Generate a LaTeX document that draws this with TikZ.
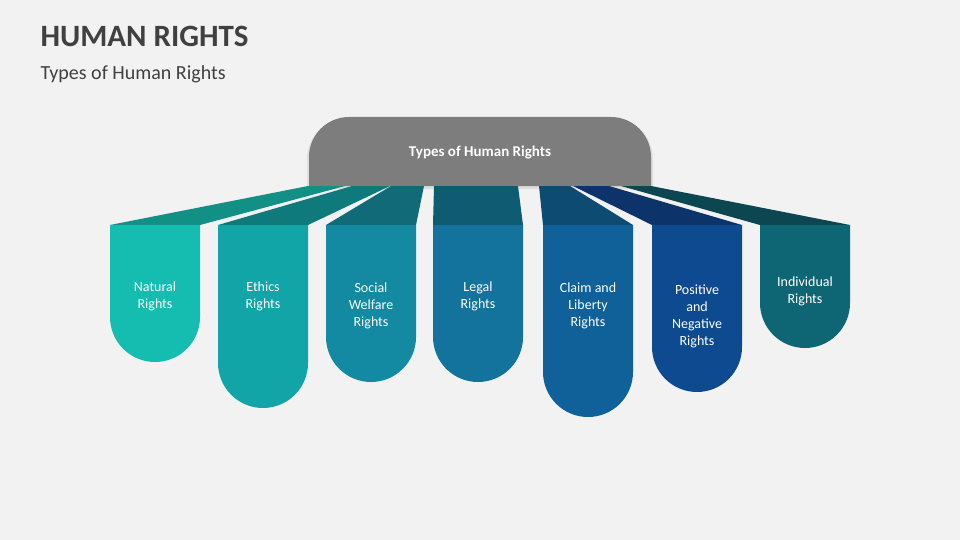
\documentclass[tikz,border=0pt]{standalone}
\usepackage{fontspec}
\setmainfont{Carlito}
\begin{document}
\begin{tikzpicture}[x=1pt,y=-1pt,
  lbl/.style={text=white,font=\fontsize{14}{17}\selectfont,align=center}]
\fill[white!95!black] (0,0) rectangle (960,540);
\useasboundingbox (0,0) rectangle (960,540);
\node[anchor=west,text=black!75,font=\fontsize{31}{36}\bfseries\selectfont] (title) at (37,36) {HUMAN RIGHTS};
\node[anchor=west,text=black!75,font=\fontsize{20}{24}\selectfont] (sub) at (37,74) {Types of Human Rights};
% header
\fill[black!20,opacity=.5] (307,189) -- (307,159) arc[start angle=180,end angle=270,radius=40] -- (613,119) arc[start angle=-90,end angle=0,radius=40] -- (653,189) -- cycle;
\fill[gray!98!black] (309,186) -- (309,157) arc[start angle=180,end angle=270,radius=40] -- (611,117) arc[start angle=-90,end angle=0,radius=40] -- (651,186) -- cycle;
\node[text=white,font=\fontsize{15}{18}\bfseries\selectfont] (hdr) at (480,153) {Types of Human Rights};
% columns: topL topR colL colR bottom color topcolor
\foreach \tl/\tr/\cl/\cr/\b/\c/\d [count=\i] in {
 308/345/110/200/362/14BDB0/139085,
 352/390/218/308/408/12A5A8/0F7A7C,
 391/424/326/416/382/138AA2/106A77,
 434/518/433/523/382/13739C/0F5B72,
 539/570/543/633/417/10609A/0D4B73,
 573/609/652/742/392/0E4A90/0C346A,
 621/651/760/850/348/0E6675/0C4650}{
  \definecolor{cc}{HTML}{\c}\definecolor{dd}{HTML}{\d}
  \fill[dd] (\tl,186) -- (\tr,186) -- (\cr,225) -- (\cl,225) -- cycle;
  \fill[cc] (\cl,225) -- (\cr,225) -- (\cr,\b-45) arc[start angle=0,end angle=180,radius=45] -- cycle;
}
\node[lbl] (n1) at (155,296) {Natural\\Rights};
\node[lbl] (n2) at (263,296) {Ethics\\Rights};
\node[lbl] (n3) at (371,306) {Social\\Welfare\\Rights};
\node[lbl] (n4) at (478,296) {Legal\\Rights};
\node[lbl] (n5) at (588,306) {Claim and\\Liberty\\Rights};
\node[lbl] (n6) at (697,316) {Positive\\and\\Negative\\Rights};
\node[lbl] (n7) at (805,291) {Individual\\Rights};
\end{tikzpicture}
\end{document}
